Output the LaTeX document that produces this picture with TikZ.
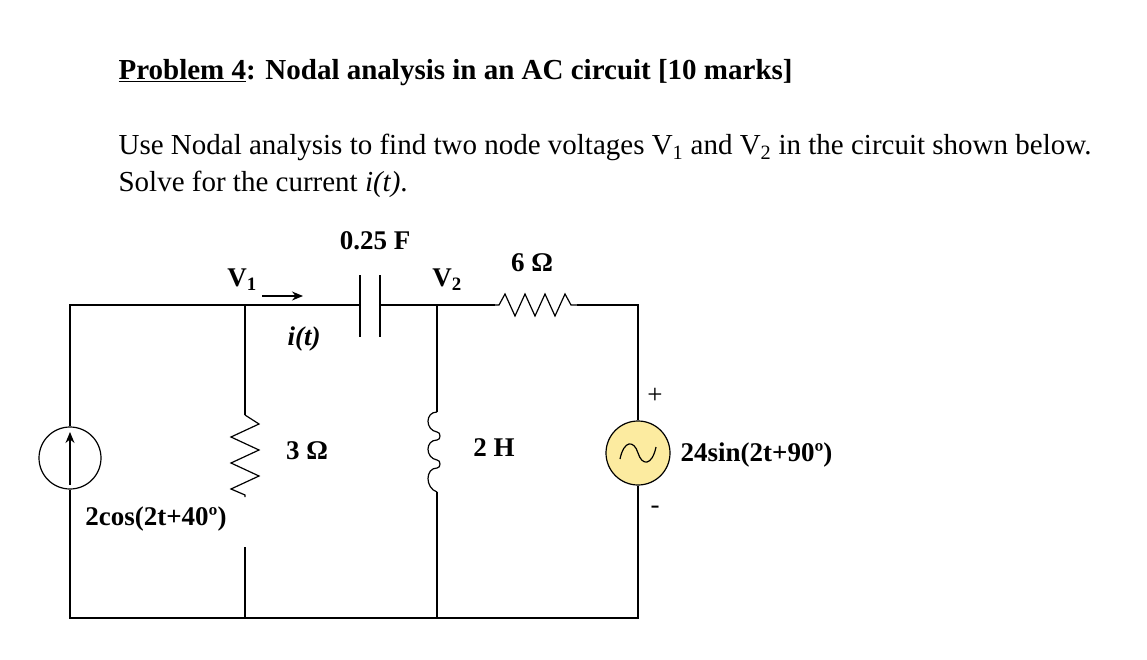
\documentclass[tikz,border=0pt]{standalone}
\usepackage{fontspec}
\setmainfont{Liberation Serif}
\usetikzlibrary{arrows.meta}
\begin{document}
\begin{tikzpicture}[x=1pt,y=-1pt,line width=1.2pt,
  lbl/.style={font=\fontsize{27}{30}\selectfont\bfseries,inner sep=0pt},
  txt/.style={font=\fontsize{29}{32}\selectfont,anchor=base west,inner sep=0pt}]
\useasboundingbox (0,0) rectangle (1147,660);
\node[txt] (title) at (118,80) {\textbf{\underline{Problem 4}: Nodal analysis in an AC circuit [10 marks]}};
\node[txt] (l1) at (118,155) {Use Nodal analysis to find two node voltages V\textsubscript{1} and V\textsubscript{2} in the circuit shown below.};
\node[txt] (l2) at (118,192) {Solve for the current \textit{i(t)}.};
% coordinates
\coordinate (tl) at (70,305); \coordinate (bl) at (70,618);
\coordinate (t1) at (245,305); \coordinate (b1) at (245,618);
\coordinate (t2) at (437,305); \coordinate (b2) at (437,618);
\coordinate (tr) at (638,305); \coordinate (br) at (638,618);
\coordinate (c1) at (360,305); \coordinate (c2) at (380,305);
\coordinate (r6a) at (495,305); \coordinate (r6b) at (577,305);
\coordinate (r3a) at (245,415); \coordinate (r3b) at (245,495);
\coordinate (la) at (437,412); \coordinate (lb) at (437,492);
\node[draw,circle,minimum size=62pt,inner sep=0pt] (cs) at (70,458) {};
\node[draw,circle,minimum size=64pt,inner sep=0pt,fill={rgb,255:red,252;green,235;blue,160}] (vs) at (638,453) {};
% wires
\draw (cs.north) -- (tl) -- (t1) -- (c1);
\draw (c2) -- (r6a);
\draw (r6b) -- (tr) -- (vs.north);
\draw (vs.south) -- (br) -- (bl) -- (cs.south);
\draw (t1) -- (r3a);
\draw (245,547) -- (b1);
\draw (t2) -- (la); \draw (lb) -- (b2);
% capacitor
\draw (360,275) -- (360,337); \draw (380,275) -- (380,337);
% resistors
\draw (r6a) -- (499,305) -- (505,294) -- (515,316) -- (525,294) -- (535,316) -- (545,294) -- (555,316) -- (565,294) -- (571,305) -- (r6b);
\draw (r3a) -- (259,424) -- (231,437) -- (259,450) -- (231,463) -- (259,476) -- (231,489) -- (r3b) -- (245,497);
% inductor
\draw (la) .. controls (425,412) and (425,430) .. (437,432)
      .. controls (441,432) and (441,440) .. (437,440) .. controls (425,440) and (425,458) .. (437,460)
      .. controls (441,460) and (441,468) .. (437,468) .. controls (425,468) and (425,488) .. (lb);
% source arrow
\draw[-{Stealth[length=11pt,width=9pt]}] (70,485) -- (70,432);
% sine
\draw (620,459) .. controls (624,440) and (634,440) .. (638,453) .. controls (642,466) and (652,466) .. (656,447);
% current arrow
\draw[-{Stealth[length=11pt,width=9pt]}] (262,296) -- (303,296);
% labels
\node[lbl] (v1) at (242,280) {V\textsubscript{1}};
\node[lbl] (v2) at (447,280) {V\textsubscript{2}};
\node[lbl] (cap) at (375,241) {0.25 F};
\node[lbl] (r6) at (532,263) {6 Ω};
\node[lbl] (it) at (304,339) {\itshape i(t)};
\node[lbl] (r3) at (307,451) {3 Ω};
\node[lbl] (ind) at (494,448) {2 H};
\node[lbl,fill=white,inner sep=2pt] (src) at (156,519) {2cos(2t+40º)};
\node[lbl,anchor=west] (vsl) at (680,455) {24sin(2t+90º)};
\node[font=\fontsize{27}{30}\selectfont,inner sep=0pt] (plus) at (655,396) {+};
\node[font=\fontsize{27}{30}\selectfont,inner sep=0pt] (minus) at (655,510) {-};
\end{tikzpicture}
\end{document}
